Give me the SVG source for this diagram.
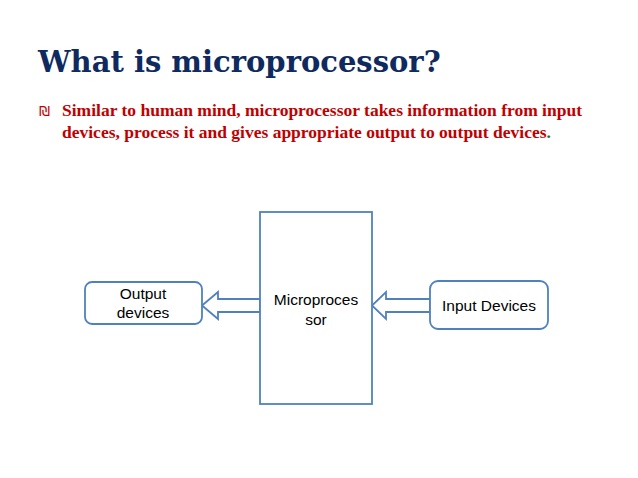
<svg xmlns="http://www.w3.org/2000/svg" width="638" height="478" viewBox="0 0 638 478">
<style>
.box{fill:#fff;stroke:#4f81bd;stroke-width:1.8}
.arr{fill:#fff;stroke:#4f81bd;stroke-width:1.8;stroke-linejoin:miter}
.lbl{font-family:"Liberation Sans",Arial,sans-serif;font-size:15.5px;fill:#000;text-anchor:middle}
.red{font-family:"Liberation Serif","Times New Roman",serif;font-weight:bold;font-size:17.5px;fill:#c00000}
</style>
<rect width="638" height="478" fill="#fff"/>
<text x="38" y="72" font-family="'DejaVu Serif',serif" font-weight="bold" font-size="29" fill="#0f2a5e">What is microprocessor?</text>
<text x="39" y="116" font-family="'DejaVu Sans',sans-serif" font-size="14" fill="#c00000">₪</text>
<text class="red" x="62" y="116">Similar to human mind, microprocessor takes information from input</text>
<text class="red" x="62" y="138">devices, process it and gives appropriate output to output devices<tspan fill="#2a6b2a">.</tspan></text>
<g id="connectors">
<path class="arr" d="M260,299 H218 V292 L202,305.5 L218,319 V312 H260 Z"/>
<path class="arr" d="M430,299 H386 V292 L372,305.5 L386,319 V312 H430 Z"/>
</g>
<g id="microprocessor">
<rect class="box" x="260" y="212" width="112" height="192"/>
<text class="lbl" x="316" y="305">Microproces</text>
<text class="lbl" x="316" y="325">sor</text>
</g>
<g id="output">
<rect class="box" x="85" y="282" width="117" height="42" rx="7"/>
<text class="lbl" x="143" y="299">Output</text>
<text class="lbl" x="143" y="318">devices</text>
</g>
<g id="input">
<rect class="box" x="430" y="281" width="118" height="48" rx="8"/>
<text class="lbl" x="489" y="311">Input Devices</text>
</g>
</svg>
